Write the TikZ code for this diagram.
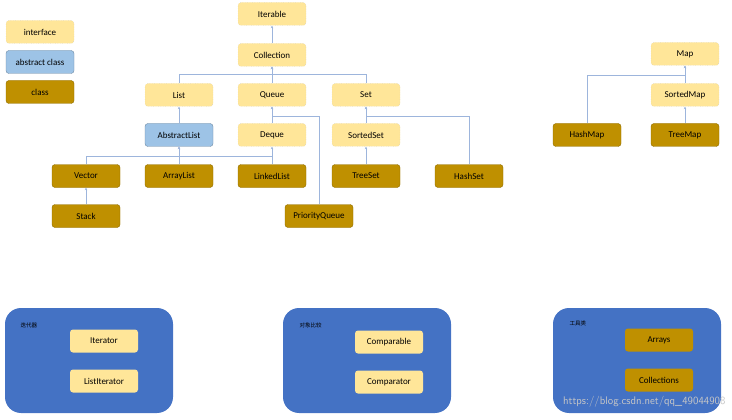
\documentclass[tikz,border=0pt]{standalone}
\usepackage{fontspec}
\setmainfont{Carlito}
\newfontfamily\cjk{Noto Sans CJK SC}
\usetikzlibrary{arrows.meta}
\definecolor{ifc}{HTML}{FFE699}
\definecolor{abs}{HTML}{9DC3E6}
\definecolor{cls}{HTML}{BF9000}
\definecolor{lnk}{HTML}{9DB5DC}
\definecolor{grp}{HTML}{4472C4}
\begin{document}
\begin{tikzpicture}[x=1pt,y=-1pt,
 box/.style={rounded corners=3pt,minimum width=68pt,minimum height=23pt,font=\fontsize{9}{10}\selectfont,inner sep=1pt},
 ifc/.style={box,fill=ifc,draw=gray!50,dotted},
 abs/.style={box,fill=abs,draw=abs!70!black},
 cls/.style={box,fill=cls,draw=cls!75!black},
 lk/.style={draw=lnk,line width=0.7pt,-{Stealth[length=2.5pt,width=2.5pt]}},
 grp/.style={fill=grp,rounded corners=16pt},
 glab/.style={font=\cjk\fontsize{5.5}{6}\selectfont,anchor=west}]
\useasboundingbox (0,0) rectangle (732,420);
% legend
\node[ifc] (lgi) at (40,32) {interface};
\node[abs] (lga) at (40,62) {abstract class};
\node[cls] (lgc) at (40,92) {class};
% hierarchy
\node[ifc] (iter) at (272,14) {Iterable};
\node[ifc] (coll) at (272,55) {Collection};
\node[ifc] (list) at (179,95) {List};
\node[ifc] (queue) at (272,95) {Queue};
\node[ifc] (set) at (366,95) {Set};
\node[abs] (alist) at (179,135) {AbstractList};
\node[ifc] (deque) at (272,135) {Deque};
\node[ifc] (sset) at (366,135) {SortedSet};
\node[cls] (vec) at (86,176) {Vector};
\node[cls] (alst) at (179,176) {ArrayList};
\node[cls] (llst) at (272,176) {LinkedList};
\node[cls] (tset) at (366,176) {TreeSet};
\node[cls] (hset) at (469,176) {HashSet};
\node[cls] (stack) at (86,216) {Stack};
\node[cls] (pq) at (319,216) {PriorityQueue};
\node[ifc] (map) at (685,54) {Map};
\node[ifc] (smap) at (685,95) {SortedMap};
\node[cls] (hmap) at (587,135) {HashMap};
\node[cls] (tmap) at (685,135) {TreeMap};
% links
\draw[lk] (coll) -- (iter);
\draw[lk] (queue) -- (coll);
\draw[lk] (list.north) |- (272,74) -- (coll);
\draw[lk] (set.north) |- (272,74) -- (coll);
\draw[lk] (alist) -- (list);
\draw[lk] (deque) -- (queue);
\draw[lk] (pq.north) |- (272,116) -- (queue);
\draw[lk] (sset) -- (set);
\draw[lk] (hset.north) |- (366,116) -- (set);
\draw[lk] (alst) -- (alist);
\draw[lk] (vec.north) |- (179,156) -- (alist);
\draw[lk] (llst) -- (deque);
\draw[draw=lnk,line width=0.7pt] (179,156) -- (272,156);
\draw[lk] (tset) -- (sset);
\draw[lk] (stack) -- (vec);
\draw[lk] (smap) -- (map);
\draw[lk] (hmap.north) |- (685,75) -- (map);
\draw[lk] (tmap) -- (smap);
% groups
\fill[grp] (5,308) rectangle (173,413);
\fill[grp] (283,308) rectangle (451,413);
\fill[grp] (553,308) rectangle (721,413);
\node[glab] (g1) at (17,325) {迭代器};
\node[glab] (g2) at (296,325) {对象比较};
\node[glab] (g3) at (566,323) {工具类};
\node[box,fill=ifc] (it) at (104,341) {Iterator};
\node[box,fill=ifc] (lit) at (104,381) {ListIterator};
\node[box,fill=ifc] (cmpb) at (389,342) {Comparable};
\node[box,fill=ifc] (cmpt) at (389,382) {Comparator};
\node[box,fill=cls] (arr) at (659,340) {Arrays};
\node[box,fill=cls] (cols) at (659,380) {Collections};
\node[font=\sffamily\fontsize{11}{12}\selectfont,text=gray!45,anchor=east] (wm) at (729,402) {https://blog.csdn.net/qq\_49044908};
\end{tikzpicture}
\end{document}
